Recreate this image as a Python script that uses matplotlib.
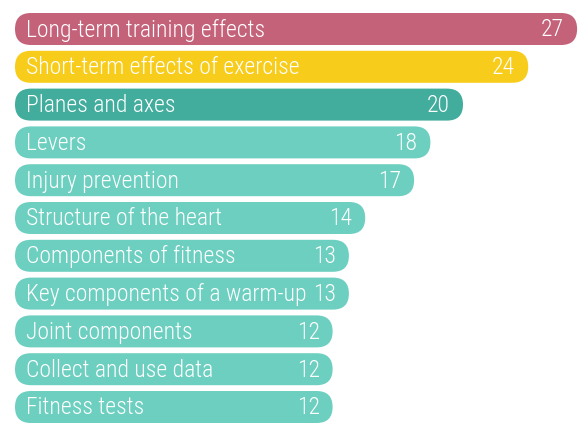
import matplotlib
matplotlib.use("Agg")
import matplotlib.pyplot as plt
from matplotlib import font_manager
from matplotlib.patches import FancyBboxPatch

topics = ["Long-term training effects", "Short-term effects of exercise", "Planes and axes",
          "Levers", "Injury prevention", "Structure of the heart", "Components of fitness",
          "Key components of a warm-up", "Joint components", "Collect and use data",
          "Fitness tests"]
counts = [27, 24, 20, 18, 17, 14, 13, 13, 12, 12, 12]
bar_colors = ["#C4627A", "#F8CC1B", "#42AD9D"] + ["#6CCFC0"] * 8

# pick a narrow-ish font that is actually installed
installed = {f.name for f in font_manager.fontManager.ttflist}
font = next(f for f in ["Liberation Sans Narrow", "Roboto Condensed", "Roboto", "DejaVu Sans"]
            if f in installed)
plt.rcParams['font.family'] = [font, 'DejaVu Sans']

fig = plt.figure(figsize=(5.87, 4.35), dpi=100)
ax = fig.add_axes([0, 0, 1, 1])

# pixel layout of the reference
px_per_unit = 16.3
zero_px = 137
row_px = 37.8
first_row_px = 30
bar_h = 32 / row_px
left = (15 - zero_px) / px_per_unit

ax.set_xlim(-zero_px / px_per_unit, (587 - zero_px) / px_per_unit)
ax.set_ylim((435 - first_row_px) / row_px, -first_row_px / row_px)
ax.axis("off")

rx = 16 / px_per_unit
ry = 16 / row_px
for i, (name, v, c) in enumerate(zip(topics, counts, bar_colors)):
    box = FancyBboxPatch((left, i - bar_h / 2), v - left, bar_h,
                         boxstyle=f"round,pad=0,rounding_size={rx * 0.999}",
                         mutation_aspect=ry / rx, facecolor=c, edgecolor="none")
    ax.add_patch(box)
    ax.text(left + 11 / px_per_unit, i, name, color="white", fontsize=17,
            fontweight="light", va="center", ha="left")
    ax.text(v - 13 / px_per_unit, i, str(v), color="white", fontsize=17,
            fontweight="light", va="center", ha="right")

fig.savefig("out.png", dpi=100)
